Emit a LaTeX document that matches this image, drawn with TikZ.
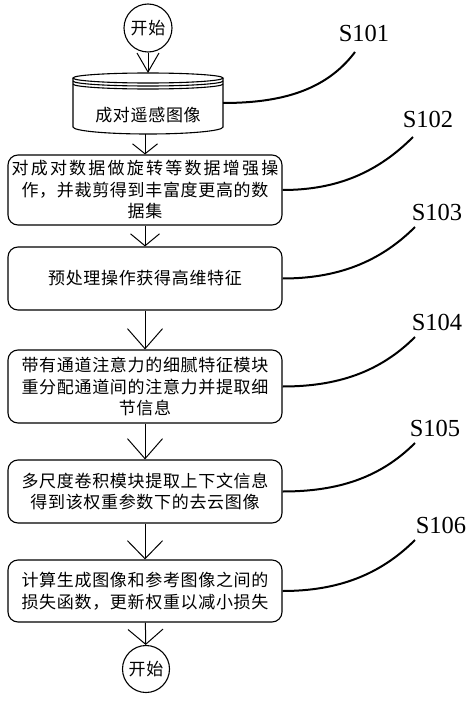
\documentclass[tikz,border=0pt]{standalone}
\usepackage{fontspec}
\usepackage{tikz}
\usetikzlibrary{arrows.meta}
\newfontfamily\cjk[LetterSpace=4]{Noto Sans CJK SC}
\newfontfamily\stepfont{Liberation Serif}

\tikzset{
  stepbox/.style={draw, line width=1.1pt, rounded corners=10pt, minimum width=274pt,
    minimum height=#1, inner sep=0pt, align=center, font=\cjk\fontsize{17}{21.5}\selectfont},
  term/.style={draw, circle, line width=1.1pt, minimum size=#1, inner sep=0pt,
    font=\cjk\fontsize{17}{20}\selectfont},
  steplabel/.style={font=\stepfont\fontsize{24.5}{26}\selectfont, inner sep=0pt},
  leader/.style={line width=2pt},
  flow/.style 2 args={line width=1pt, -{Straight Barb[length=#1pt, width=#2pt]}},
}

\begin{document}
\begin{tikzpicture}[x=1pt, y=-1pt]

      \useasboundingbox (0,0) rectangle (474,701);

      \node[term=48pt] (start) at (148,28) {开始};

      \draw[line width=1.1pt] (148,78) ellipse[x radius=75, y radius=5];
      \draw[line width=1.1pt] (73,81) arc[start angle=180, end angle=0, x radius=75, y radius=5];
      \draw[line width=1.1pt] (73,84) arc[start angle=180, end angle=0, x radius=75, y radius=5];
      \draw[line width=1.1pt] (73,78) -- (73,127)
        arc[start angle=180, end angle=0, x radius=75, y radius=7] -- (223,78);
      \node[font=\cjk\fontsize{17}{20}\selectfont] (db) at (148,115) {成对遥感图像};
      \coordinate (dbtop) at (148,73);
      \coordinate (dbbot) at (145,134);
      \coordinate (dbright) at (223,103);

      \node[stepbox=70pt] (s2) at (145,190)
        {{\addfontfeature{LetterSpace=13}对成对数据做旋转等数据增强操}\\作，并裁剪得到丰富度更高的数\\据集};
      \node[stepbox=63pt] (s3) at (145,278.5) {预处理操作获得高维特征};
      \node[stepbox=73pt] (s4) at (145,386.5)
        {带有通道注意力的细腻特征模块\\重分配通道间的注意力并提取细\\节信息};
      \node[stepbox=63pt] (s5) at (145,491.5) {多尺度卷积模块提取上下文信息\\得到该权重参数下的去云图像};
      \node[stepbox=62pt] (s6) at (145,591) {计算生成图像和参考图像之间的\\损失函数，更新权重以减小损失};

      \node[term=47pt] (stop) at (146,669) {开始};

      \draw[flow={19}{22}] (start) -- (dbtop);
      \draw[flow={10}{25}] (dbbot) -- (s2);
      \draw[flow={12}{29}] (s2) -- (s3);
      \draw[flow={20}{35}] (s3) -- (s4);
      \draw[flow={20}{35}] (s4) -- (s5);
      \draw[flow={18}{35}] (s5) -- (s6);
      \draw[flow={15}{35}] (s6) -- (stop);

      \node[steplabel] (l1) at (364,33) {S101};
      \node[steplabel] (l2) at (428,119) {S102};
      \node[steplabel] (l3) at (437,212) {S103};
      \node[steplabel] (l4) at (437,322) {S104};
      \node[steplabel] (l5) at (435,428) {S105};
      \node[steplabel] (l6) at (441,525) {S106};

      \coordinate (e1) at (355,52);
      \coordinate (e2) at (413,137);
      \coordinate (e3) at (415,227);
      \coordinate (e4) at (415,337);
      \coordinate (e5) at (415,443);
      \coordinate (e6) at (415,540);

      \draw[leader] (dbright) .. controls +(55,0) and +(-30,40) .. (e1);
      \draw[leader] (s2.east) .. controls +(55,0) and +(-35,35) .. (e2);
      \draw[leader] (s3.east) .. controls +(55,0) and +(-35,35) .. (e3);
      \draw[leader] (s4.east) .. controls +(55,0) and +(-35,35) .. (e4);
      \draw[leader] (s5.east) .. controls +(55,0) and +(-35,35) .. (e5);
      \draw[leader] (s6.east) .. controls +(55,0) and +(-35,35) .. (e6);

\end{tikzpicture}
\end{document}
